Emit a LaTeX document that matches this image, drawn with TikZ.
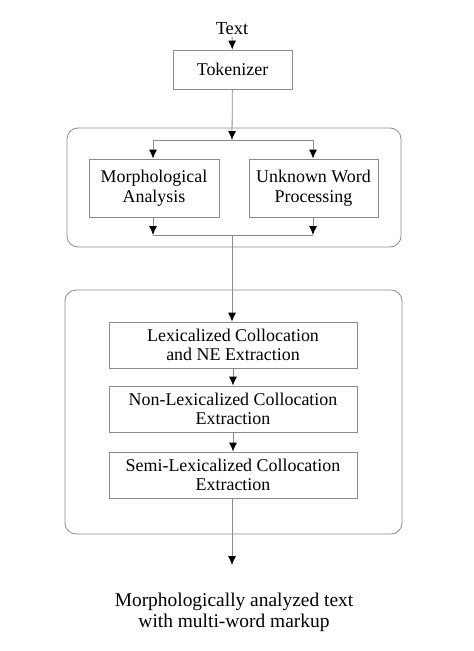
\documentclass[tikz,border=0pt]{standalone}
\usepackage{fontspec}
\setmainfont{Liberation Serif}
\usepackage{tikz}
\usetikzlibrary{arrows.meta,calc,positioning}
\definecolor{lineGray}{rgb}{0.55 0.55 0.55}

\tikzset{
  procBox/.style={draw=lineGray, line width=0.8bp, fill=white, align=center,
    inner sep=0pt, minimum height=46bp},
  groupBox/.style={draw=lineGray, line width=0.8bp, rounded corners=11bp},
  flow/.style={draw=lineGray, line width=0.8bp},
  flowArr/.style={flow, -{Latex[length=9bp,width=8bp,color=black]}}
}

\begin{document}
\begin{tikzpicture}[x=1bp,y=-1bp,every node/.style={font=\fontsize{18}{19.5}\selectfont}]

  \useasboundingbox (0,0) rectangle (474,651);

  % draw the two group frames
  \draw[groupBox] (67,128) rectangle (401,247);
  \draw[groupBox] (65,290) rectangle (402,534);

  % input, tokenizer
  \node[inner sep=1bp, font=\fontsize{18.5}{20}\selectfont] (txt) at (232,29) {Text};
  \node[procBox, minimum width=119bp, minimum height=39bp] (tok) at (232.5,69.5) {Tokenizer};

  % the two analysers
  \node[procBox, minimum width=130bp, minimum height=58bp] (morph) at (154,188) {Morphological\\Analysis};
  \node[procBox, minimum width=129bp, minimum height=58bp] (unk) at (313.5,188) {Unknown Word\\Processing};

  % the collocation extraction chain
  \node[procBox, minimum width=248bp] (lex) at (233,345) {Lexicalized Collocation\\and NE Extraction};
  \node[procBox, minimum width=248bp] (nonlex) at (233,409) {Non-Lexicalized Collocation\\Extraction};
  \node[procBox, minimum width=248bp] (semi) at (233,475) {Semi-Lexicalized Collocation\\Extraction};

  % output
  \node[align=center, font=\fontsize{19.5}{21}\selectfont] (out) at (234,612) {Morphologically analyzed text\\with multi-word markup};

  % split and join points
  \coordinate (splitC) at (232,140);
  \coordinate (splitL) at (153,140);
  \coordinate (splitR) at (313,140);
  \coordinate (joinL) at (153,235);
  \coordinate (joinR) at (313,235);
  \coordinate (joinC) at (232,235);
  \coordinate (outTip) at (232,565);

  % draw the connectors
  \draw[flowArr] (txt) -- (tok);
  \draw[flowArr] (tok) -- (splitC);
  \draw[flow] (splitL) -- (splitR);
  \draw[flowArr] (splitL) -- (splitL |- morph.north);
  \draw[flowArr] (splitR) -- (splitR |- unk.north);
  \draw[flowArr] (joinL |- morph.south) -- (joinL);
  \draw[flowArr] (joinR |- unk.south) -- (joinR);
  \draw[flow] (joinL) -- (joinR);
  \draw[flowArr] (joinC) -- (joinC |- lex.north);
  \draw[flowArr] (lex) -- (nonlex);
  \draw[flowArr] (nonlex) -- (semi);
  \draw[flowArr] (semi.south -| outTip) -- (outTip);

\end{tikzpicture}
\end{document}
